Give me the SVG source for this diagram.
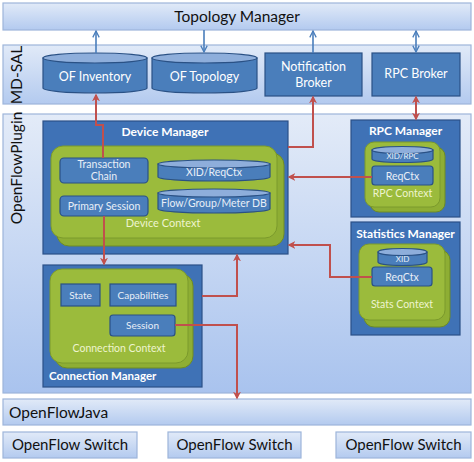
<svg xmlns="http://www.w3.org/2000/svg" width="474" height="462" viewBox="0 0 474 462">
<defs>
<linearGradient id="band" x1="0" y1="0" x2="0" y2="1">
<stop offset="0" stop-color="#e1eaf8"/><stop offset="1" stop-color="#b3caef"/>
</linearGradient>
<linearGradient id="bandTall" x1="0" y1="0" x2="0" y2="1">
<stop offset="0" stop-color="#e3ebf8"/><stop offset="1" stop-color="#a9c3ee"/>
</linearGradient>
<marker id="ar" viewBox="0 0 10 10" refX="8" refY="5" markerWidth="4" markerHeight="4" orient="auto-start-reverse">
<path d="M0,0 L10,5 L0,10 L3,5 z" fill="#c0504d"/>
</marker>
<marker id="ab" viewBox="0 0 10 10" refX="9" refY="5" markerWidth="5" markerHeight="5" orient="auto-start-reverse">
<path d="M1,1 L9,5 L1,9" fill="none" stroke="#4a7ebb" stroke-width="1.6"/>
</marker>
<style>
.band{fill:url(#band);stroke:#9db5da;stroke-width:1.2}
.bandT{fill:url(#bandTall);stroke:#9db5da;stroke-width:1.2}
.mgr{fill:#3f72b6;stroke:#2b5088;stroke-width:1.2}
.box{fill:#4a7ebb;stroke:#2a5185;stroke-width:1.2}
.cylTop{fill:#8eaedb;stroke:#2a5185;stroke-width:1.2}
.gB{fill:#8eae34;stroke:#6f8c24;stroke-width:1}
.gF{fill:#9bbb3c;stroke:#7b9a2c;stroke-width:1}
text{font-family:Lato,"Open Sans","Liberation Sans",sans-serif}
.dk{fill:#111}
.wt{fill:#fff}
.ttl{fill:#fff;font-size:12px;font-weight:bold}
.lt{fill:#e8eef7}
.ctx{fill:#eef4cf}
.red{fill:none;stroke:#c0504d;stroke-width:2}
.blue{fill:none;stroke:#4a7ebb;stroke-width:1.6}
</style>
</defs>
<rect width="474" height="462" fill="#fff"/>

<g id="topology-manager">
<rect class="band" x="3" y="3" width="468" height="27"/>
<text class="dk" x="237" y="22" font-size="15.5" text-anchor="middle">Topology Manager</text>
</g>

<g id="md-sal">
<rect class="band" x="3" y="45" width="468" height="59"/>
<text class="dk" transform="translate(22,75) rotate(-90)" font-size="15.5" text-anchor="middle">MD-SAL</text>
</g>

<g id="of-inventory">
<path class="box" d="M43,58 V88 A52,5 0 0 0 147,88 V58 Z"/>
<ellipse class="cylTop" cx="95" cy="58" rx="52" ry="5"/>
<text class="wt" x="95" y="81" font-size="12.5" text-anchor="middle">OF Inventory</text>
</g>

<g id="of-topology">
<path class="box" d="M152,58 V88 A52.5,5 0 0 0 257,88 V58 Z"/>
<ellipse class="cylTop" cx="204.5" cy="58" rx="52.5" ry="5"/>
<text class="wt" x="204.5" y="81" font-size="12.5" text-anchor="middle">OF Topology</text>
</g>

<g id="notification-broker">
<rect class="box" x="265" y="53" width="97" height="43"/>
<text class="wt" x="313.5" y="71" font-size="12.5" text-anchor="middle">Notification</text>
<text class="wt" x="313.5" y="87" font-size="12.5" text-anchor="middle">Broker</text>
</g>

<g id="rpc-broker">
<rect class="box" x="372" y="53" width="88" height="43"/>
<text class="wt" x="416" y="78" font-size="12.5" text-anchor="middle">RPC Broker</text>
</g>

<g id="openflowplugin">
<rect class="bandT" x="3" y="114" width="468" height="279"/>
<text class="dk" transform="translate(22,168) rotate(-90)" font-size="15.5" text-anchor="middle">OpenFlowPlugin</text>
</g>

<g id="device-manager">
<rect class="mgr" x="43" y="121" width="245" height="133"/>
<text class="ttl" x="165" y="136" text-anchor="middle">Device Manager</text>
<rect class="gB" x="57" y="153" width="227" height="93" rx="12"/>
<rect class="gF" x="51" y="146" width="226" height="92" rx="12"/>
<text class="ctx" x="163" y="227" font-size="11" text-anchor="middle">Device Context</text>
</g>

<g id="transaction-chain">
<rect class="box" x="60" y="158" width="88" height="25" rx="4"/>
<text class="lt" x="104" y="168" font-size="10.5" text-anchor="middle">Transaction</text>
<text class="lt" x="104" y="180" font-size="10.5" text-anchor="middle">Chain</text>
</g>

<g id="primary-session">
<rect class="box" x="60" y="196" width="88" height="20" rx="4"/>
<text class="lt" x="104" y="210" font-size="10.5" text-anchor="middle">Primary Session</text>
</g>

<g id="xid-reqctx">
<path class="box" d="M158,164 V177 A56,4 0 0 0 270,177 V164 Z"/>
<ellipse class="cylTop" cx="214" cy="164" rx="56" ry="4"/>
<text class="lt" x="214" y="176" font-size="10.5" text-anchor="middle">XID/ReqCtx</text>
</g>

<g id="flow-group-meter-db">
<path class="box" d="M158,193 V209 A56,4 0 0 0 270,209 V193 Z"/>
<ellipse class="cylTop" cx="214" cy="193" rx="56" ry="4"/>
<text class="lt" x="214" y="207" font-size="10.5" text-anchor="middle">Flow/Group/Meter  DB</text>
</g>

<g id="rpc-manager">
<rect class="mgr" x="351" y="120" width="109" height="97"/>
<text class="ttl" x="405.5" y="135" text-anchor="middle">RPC Manager</text>
<rect class="gB" x="370" y="147" width="75" height="65" rx="9"/>
<rect class="gF" x="365" y="142" width="75" height="65" rx="9"/>
<text class="ctx" x="402.5" y="197" font-size="10.5" text-anchor="middle">RPC Context</text>
</g>

<g id="xid-rpc">
<path class="box" d="M372,150 V159 A30.5,3.5 0 0 0 433,159 V150 Z"/>
<ellipse class="cylTop" cx="402.5" cy="150" rx="30.5" ry="3.5"/>
<text class="lt" x="402.5" y="159" font-size="8" text-anchor="middle">XID/RPC</text>
</g>

<g id="rpc-reqctx">
<rect class="box" x="372" y="166" width="61" height="19" rx="3"/>
<text class="lt" x="402.5" y="179.5" font-size="10.5" text-anchor="middle">ReqCtx</text>
</g>

<g id="statistics-manager">
<rect class="mgr" x="351" y="222" width="109" height="113"/>
<text class="ttl" x="405.5" y="238" text-anchor="middle">Statistics Manager</text>
<rect class="gB" x="364" y="250" width="86" height="77" rx="10"/>
<rect class="gF" x="359" y="244" width="86" height="76" rx="10"/>
<text class="ctx" x="402" y="308" font-size="10.5" text-anchor="middle">Stats Context</text>
</g>

<g id="xid">
<path class="box" d="M378,252 V262 A24.5,3.5 0 0 0 427,262 V252 Z"/>
<ellipse class="cylTop" cx="402.5" cy="252" rx="24.5" ry="3.5"/>
<text class="lt" x="402.5" y="262" font-size="8" text-anchor="middle">XID</text>
</g>

<g id="stats-reqctx">
<rect class="box" x="372" y="267" width="60" height="19" rx="3"/>
<text class="lt" x="402" y="280.5" font-size="10.5" text-anchor="middle">ReqCtx</text>
</g>

<g id="connection-manager">
<rect class="mgr" x="43" y="265" width="159" height="122"/>
<rect class="gB" x="55" y="274" width="138" height="94" rx="12"/>
<rect class="gF" x="50" y="269" width="138" height="94" rx="12"/>
<text class="ctx" x="119" y="352" font-size="10.5" text-anchor="middle">Connection Context</text>
<text class="wt" x="49" y="380" font-size="11.5" font-weight="bold">Connection Manager</text>
</g>

<g id="state">
<rect class="box" x="61" y="284" width="39" height="22"/>
<text class="lt" x="80.5" y="298.5" font-size="10" text-anchor="middle">State</text>
</g>

<g id="capabilities">
<rect class="box" x="110" y="284" width="66" height="22"/>
<text class="lt" x="143" y="298.5" font-size="10" text-anchor="middle">Capabilities</text>
</g>

<g id="session">
<rect class="box" x="110" y="315" width="65" height="21" rx="3"/>
<text class="lt" x="142.5" y="329" font-size="10" text-anchor="middle">Session</text>
</g>

<g id="openflowjava">
<rect class="band" x="3" y="399" width="468" height="26"/>
<text class="dk" x="9" y="418" font-size="15.5">OpenFlowJava</text>
</g>

<g id="openflow-switch-1">
<rect class="band" x="3" y="432" width="134" height="26"/>
<text class="dk" x="70" y="450" font-size="15" text-anchor="middle">OpenFlow Switch</text>
</g>
<g id="openflow-switch-2">
<rect class="band" x="168" y="432" width="133" height="26"/>
<text class="dk" x="234.5" y="450" font-size="15" text-anchor="middle">OpenFlow Switch</text>
</g>
<g id="openflow-switch-3">
<rect class="band" x="336" y="432" width="135" height="26"/>
<text class="dk" x="403.5" y="450" font-size="15" text-anchor="middle">OpenFlow Switch</text>
</g>

<g id="connectors">
<path class="blue" d="M96,53 V31" marker-end="url(#ab)"/>
<path class="blue" d="M204,30 V52" marker-end="url(#ab)"/>
<path class="blue" d="M313,53 V31" marker-end="url(#ab)"/>
<path class="blue" d="M416,52 V31" marker-start="url(#ab)" marker-end="url(#ab)"/>
<path class="red" d="M103,158 V125 H96 V95" marker-end="url(#ar)"/>
<path class="red" d="M104,216 V264" marker-end="url(#ar)"/>
<path class="red" d="M288,147 H313 V97" marker-end="url(#ar)"/>
<path class="red" d="M416,97 V119" marker-start="url(#ar)" marker-end="url(#ar)"/>
<path class="red" d="M372,177 H289" marker-end="url(#ar)"/>
<path class="red" d="M372,277 H330 V245 H289" marker-end="url(#ar)"/>
<path class="red" d="M202,296 H237 V255" marker-end="url(#ar)"/>
<path class="red" d="M175,325 H237 V398" marker-end="url(#ar)"/>
</g>
</svg>
